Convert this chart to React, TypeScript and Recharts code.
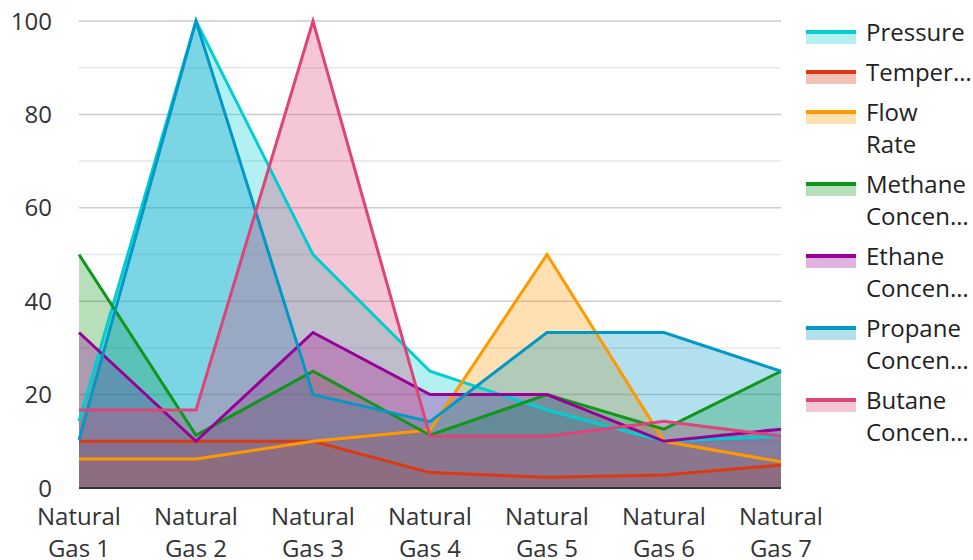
import React from 'react'
import {
  ComposedChart,
  Area,
  Line,
  XAxis,
  YAxis,
  CartesianGrid,
  Legend,
} from 'recharts'

const CATEGORIES = [
  'Natural Gas 1',
  'Natural Gas 2',
  'Natural Gas 3',
  'Natural Gas 4',
  'Natural Gas 5',
  'Natural Gas 6',
  'Natural Gas 7',
]

const PRESSURE = [14.3, 100, 50, 25, 16.7, 10, 11.1]
const TEMPERATURE = [10, 10, 10, 3.3, 2.3, 2.8, 4.9]
const FLOW_RATE = [6.2, 6.2, 10, 12.4, 50, 10, 5.6]
const METHANE = [50, 11.3, 25, 11.3, 20, 12.6, 25]
const ETHANE = [33.3, 10, 33.3, 20, 20, 10, 12.6]
const PROPANE = [10.3, 100, 20, 14.2, 33.3, 33.3, 25]
const BUTANE = [16.7, 16.7, 100, 11.1, 11.1, 14.3, 11.1]

const Y_TICKS = [0, 20, 40, 60, 80, 100]
const MINOR_TICKS = [10, 30, 50, 70, 90]

const SERIES = [
  { key: 'pressure', name: 'Pressure', color: '#00CED1', values: PRESSURE },
  { key: 'temperature', name: 'Temperature', color: '#DC3912', values: TEMPERATURE },
  { key: 'flow', name: 'Flow Rate', color: '#FF9900', values: FLOW_RATE },
  { key: 'methane', name: 'Methane Concentration', color: '#109618', values: METHANE },
  { key: 'ethane', name: 'Ethane Concentration', color: '#990099', values: ETHANE },
  { key: 'propane', name: 'Propane Concentration', color: '#0099C6', values: PROPANE },
  { key: 'butane', name: 'Butane Concentration', color: '#DD4477', values: BUTANE },
]

const data = CATEGORIES.map((name, i) => {
  const row: Record<string, string | number> = { name }
  SERIES.forEach((s) => {
    row[s.key] = s.values[i]
  })
  return row
})

const FONT = "'Open Sans', sans-serif"

function XTick(props: any) {
  const { x, y, payload } = props
  const label: string = payload.value
  const idx = label.indexOf(' ')
  const first = label.slice(0, idx)
  const second = label.slice(idx + 1)
  return (
    <text x={x} y={y} textAnchor="middle" fill="#333" fontSize={24} fontFamily={FONT}>
      <tspan x={x} dy={37}>{first}</tspan>
      <tspan x={x} dy={32}>{second}</tspan>
    </text>
  )
}

function LegendContent() {
  return (
    <div style={{ paddingTop: 16, paddingLeft: 25, fontFamily: FONT, fontSize: 24, color: '#222' }}>
      {SERIES.map((s) => {
        const words = s.name.split(' ').slice(0, 2)
        return (
          <div key={s.key} style={{ display: 'flex', marginBottom: 8 }}>
            <div style={{ width: 50, paddingTop: 14, flex: 'none' }}>
              <div style={{ height: 4, background: s.color }} />
              <div style={{ height: 10, background: s.color, opacity: 0.3 }} />
            </div>
            <div style={{ marginLeft: 10, width: 107 }}>
              {words.map((w, i) => (
                <div
                  key={i}
                  style={{
                    lineHeight: '32px',
                    whiteSpace: 'nowrap',
                    overflow: 'hidden',
                    textOverflow: 'ellipsis',
                  }}
                >
                  {w}
                </div>
              ))}
            </div>
          </div>
        )
      })}
    </div>
  )
}

// minor grid lines at the in-between values
const minorLines = ({ yAxis, offset }: any) =>
  MINOR_TICKS.map((v) =>
    yAxis && typeof yAxis.scale === 'function'
      ? yAxis.scale(v)
      : offset.top + offset.height * (1 - v / 100)
  )

export default function App() {
  return (
    <div style={{ position: 'absolute', left: 0, top: 0, width: 973, height: 560, fontFamily: FONT }}>
      <ComposedChart width={973} height={560} data={data} margin={{ top: 21, right: 0, bottom: 0, left: 0 }}>
        <CartesianGrid
          vertical={false}
          stroke="#e6e6e6"
          strokeWidth={1.5}
          horizontalCoordinatesGenerator={minorLines}
          syncWithTicks={false}
        />
        <CartesianGrid vertical={false} stroke="#cccccc" strokeWidth={1.5} />
        <XAxis
          dataKey="name"
          scale="point"
          padding={{ left: 0, right: 0 }}
          height={72}
          tickLine={false}
          tickSize={0}
          tickMargin={0}
          axisLine={{ stroke: '#333', strokeWidth: 2 }}
          tick={<XTick />}
          interval={0}
        />
        <YAxis
          domain={[0, 100]}
          ticks={Y_TICKS}
          width={79}
          axisLine={false}
          tickLine={false}
          tickSize={0}
          tickMargin={27}
          tick={{ fill: '#333', fontSize: 24, fontFamily: FONT }}
        />
        <Legend
          layout="vertical"
          align="right"
          verticalAlign="top"
          content={<LegendContent />}
          wrapperStyle={{ top: 0, right: 0, width: 192 }}
        />
        {SERIES.map((s) => (
          <Area
            key={s.key + '-fill'}
            type="linear"
            dataKey={s.key}
            name={s.name}
            stroke="none"
            fill={s.color}
            fillOpacity={0.3}
            dot={false}
            activeDot={false}
            isAnimationActive={false}
          />
        ))}
        {SERIES.map((s) => (
          <Line
            key={s.key + '-line'}
            type="linear"
            dataKey={s.key}
            name={s.name}
            stroke={s.color}
            strokeWidth={3}
            dot={false}
            activeDot={false}
            isAnimationActive={false}
          />
        ))}
      </ComposedChart>
    </div>
  )
}
